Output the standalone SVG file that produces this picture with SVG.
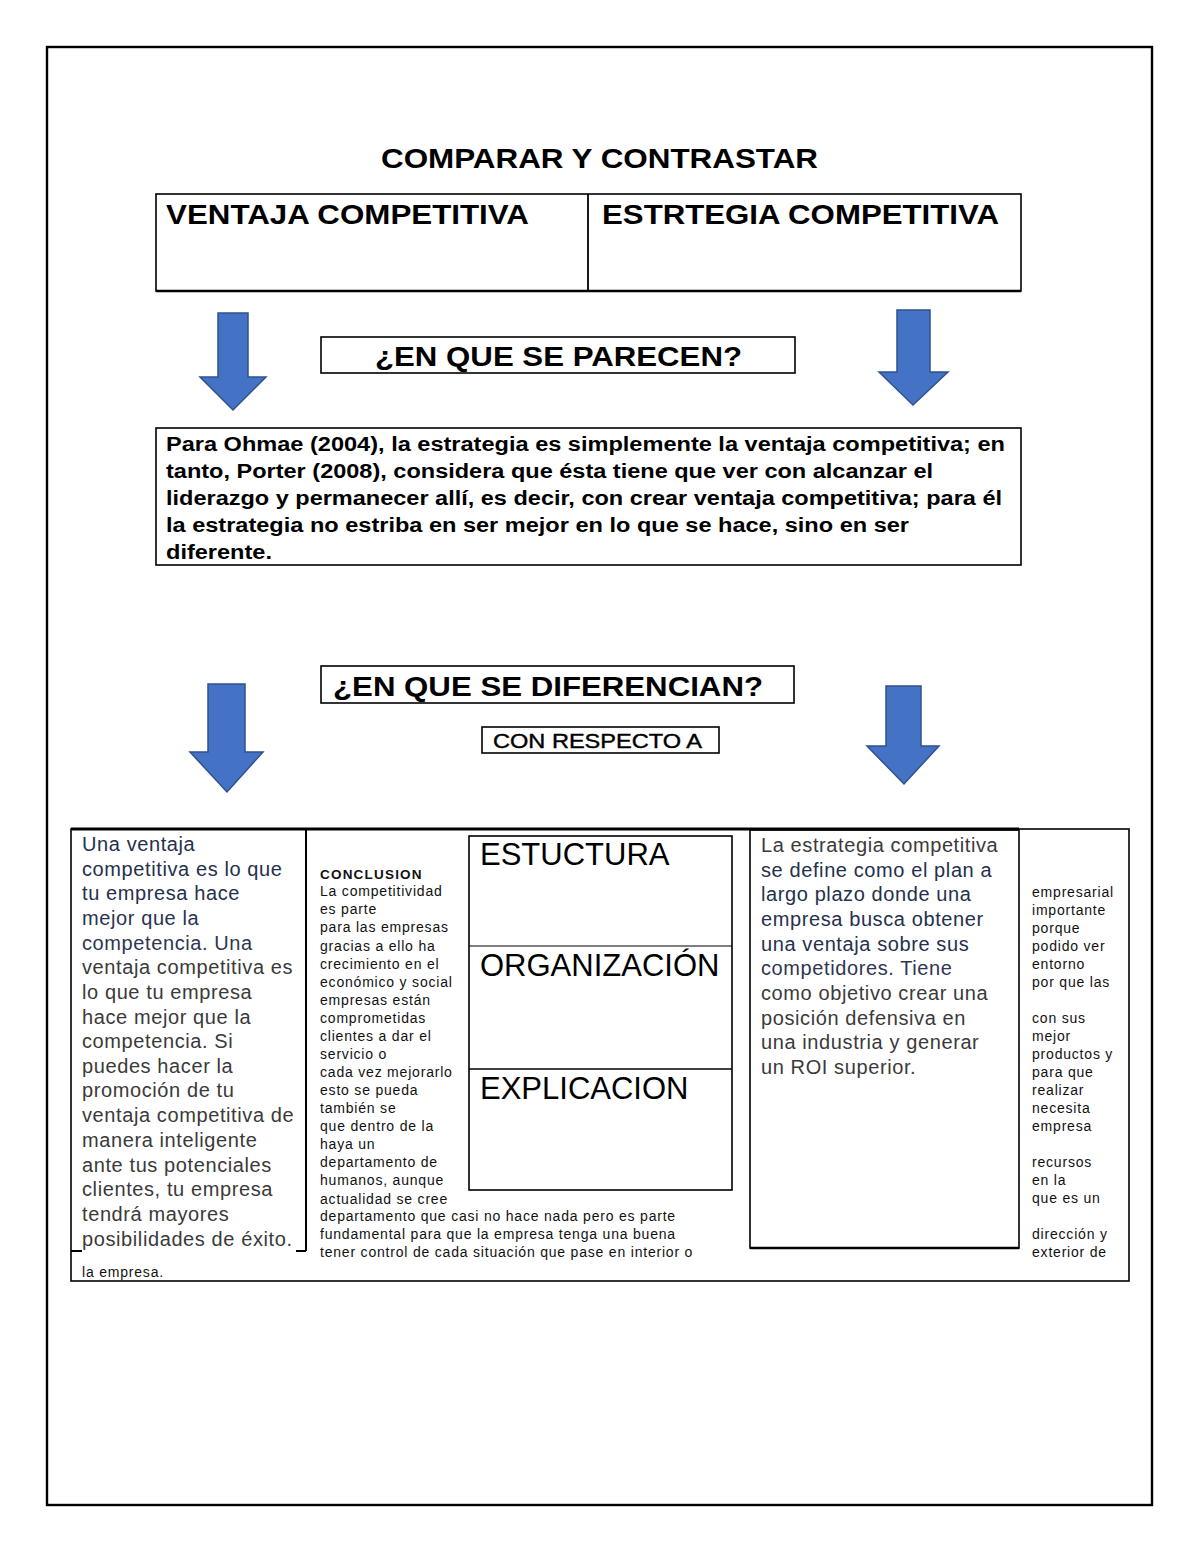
<svg xmlns="http://www.w3.org/2000/svg" width="1200" height="1553" viewBox="0 0 1200 1553">
<style>
.b{fill:none;stroke:#000;stroke-width:1.6}
.bt{fill:none;stroke:#000;stroke-width:2.4}
.h{font-family:"Liberation Sans",Arial,sans-serif;font-weight:bold;fill:#000}
.p{font-family:"Liberation Sans",Arial,sans-serif;font-weight:bold;font-size:20px;fill:#000}
.big{font-family:"Liberation Sans",Arial,sans-serif;font-size:20px;letter-spacing:0.6px;fill:#353b4c}
.sm{font-family:"Liberation Sans",Arial,sans-serif;font-size:14px;letter-spacing:0.8px;fill:#111}
.cat{font-family:"Liberation Sans",Arial,sans-serif;font-size:31px;fill:#000}
.arr{fill:#4472C4;stroke:#2F528F;stroke-width:1.5}
</style>
<rect width="1200" height="1553" fill="#fff"/>
<rect x="47" y="47" width="1105" height="1458" class="bt"/>

<g id="title">
<text x="381" y="168" class="h" font-size="28" textLength="437" lengthAdjust="spacingAndGlyphs">COMPARAR Y CONTRASTAR</text>
</g>

<g id="header-table">
<rect x="156" y="194" width="865" height="97" class="b"/>
<line x1="156" y1="291" x2="1021" y2="291" stroke="#000" stroke-width="2.4"/>
<line x1="588" y1="194" x2="588" y2="291" stroke="#000" stroke-width="1.8"/>
<text x="166" y="224" class="h" font-size="27" textLength="363" lengthAdjust="spacingAndGlyphs">VENTAJA COMPETITIVA</text>
<text x="602" y="224" class="h" font-size="27" textLength="397" lengthAdjust="spacingAndGlyphs">ESTRTEGIA COMPETITIVA</text>
</g>

<g id="parecen">
<rect x="321" y="337" width="474" height="36" class="b"/>
<text x="375" y="366" class="h" font-size="27" textLength="367" lengthAdjust="spacingAndGlyphs">¿EN QUE SE PARECEN?</text>
</g>

<g id="similarity">
<rect x="156" y="428" width="865" height="137" class="b"/>
<text x="166" y="451" class="p" textLength="839" lengthAdjust="spacingAndGlyphs">Para Ohmae (2004), la estrategia es simplemente la ventaja competitiva; en</text>
<text x="166" y="478" class="p" textLength="767" lengthAdjust="spacingAndGlyphs">tanto, Porter (2008), considera que ésta tiene que ver con alcanzar el</text>
<text x="166" y="505" class="p" textLength="836" lengthAdjust="spacingAndGlyphs">liderazgo y permanecer allí, es decir, con crear ventaja competitiva; para él</text>
<text x="166" y="532" class="p" textLength="743" lengthAdjust="spacingAndGlyphs">la estrategia no estriba en ser mejor en lo que se hace, sino en ser</text>
<text x="166" y="559" class="p" textLength="106" lengthAdjust="spacingAndGlyphs">diferente.</text>
</g>

<g id="diferencian">
<rect x="321" y="666" width="473" height="37" class="b"/>
<text x="333" y="696" class="h" font-size="27" textLength="430" lengthAdjust="spacingAndGlyphs">¿EN QUE SE DIFERENCIAN?</text>
</g>

<g id="respecto">
<rect x="482" y="727" width="237" height="26" class="b"/>
<text x="493" y="748" font-family="Liberation Sans, Arial, sans-serif" font-size="21" fill="#000" stroke="#000" stroke-width="0.4" textLength="209" lengthAdjust="spacingAndGlyphs">CON RESPECTO A</text>
</g>

<g id="connectors">
<path class="arr" d="M218,313 H248 V377 H266 L233,410 L200,377 H218 Z"/>
<path class="arr" d="M897,310 H930 V372 H948 L913,405 L879,372 H897 Z"/>
<path class="arr" d="M208,684 H245 V752 H263 L227,792 L190,752 H208 Z"/>
<path class="arr" d="M886,686 H921 V746 H939 L904,784 L867,746 H886 Z"/>
</g>

<g id="bottom-frame">
<rect x="71" y="829" width="1058" height="452" class="b"/>
<line x1="71" y1="829" x2="1019" y2="829" stroke="#000" stroke-width="3"/>
</g>

<g id="ventaja-text">
<line x1="306" y1="829" x2="306" y2="1251" stroke="#000" stroke-width="2"/>
<line x1="71" y1="1251" x2="82" y2="1251" stroke="#000" stroke-width="2"/>
<line x1="296" y1="1251" x2="306" y2="1251" stroke="#000" stroke-width="2"/>
<text class="big">
<tspan x="82" y="851" fill="#25304d">Una ventaja</tspan>
<tspan x="82" y="876" fill="#25304d">competitiva es lo que</tspan>
<tspan x="82" y="900" fill="#25304d">tu empresa hace</tspan>
<tspan x="82" y="925" fill="#2a3350">mejor que la</tspan>
<tspan x="82" y="950" fill="#2f3650">competencia. Una</tspan>
<tspan x="82" y="974" fill="#3a3a3a">ventaja competitiva es</tspan>
<tspan x="82" y="999" fill="#3a3a3a">lo que tu empresa</tspan>
<tspan x="82" y="1024" fill="#3a3a3a">hace mejor que la</tspan>
<tspan x="82" y="1048" fill="#3a3a3a">competencia. Si</tspan>
<tspan x="82" y="1073" fill="#3a3a3a">puedes hacer la</tspan>
<tspan x="82" y="1097" fill="#3a3a3a">promoción de tu</tspan>
<tspan x="82" y="1122" fill="#3a3a3a">ventaja competitiva de</tspan>
<tspan x="82" y="1147" fill="#3a3a3a">manera inteligente</tspan>
<tspan x="82" y="1172" fill="#3a3a3a">ante tus potenciales</tspan>
<tspan x="82" y="1196" fill="#3a3a3a">clientes, tu empresa</tspan>
<tspan x="82" y="1221" fill="#3a3a3a">tendrá mayores</tspan>
<tspan x="82" y="1246" fill="#3a3a3a">posibilidades de éxito.</tspan>
</text>
<text class="sm" x="82" y="1277">la empresa.</text>
</g>

<g id="conclusion">
<text x="320" y="879" font-family="Liberation Sans, Arial, sans-serif" font-weight="bold" font-size="13.5" letter-spacing="1.2" fill="#111">CONCLUSION</text>
<text class="sm">
<tspan x="320" y="896">La competitividad</tspan>
<tspan x="320" y="914">es parte</tspan>
<tspan x="320" y="932">para las empresas</tspan>
<tspan x="320" y="951">gracias a ello ha</tspan>
<tspan x="320" y="969">crecimiento en el</tspan>
<tspan x="320" y="987">económico y social</tspan>
<tspan x="320" y="1005">empresas están</tspan>
<tspan x="320" y="1023">comprometidas</tspan>
<tspan x="320" y="1041">clientes a dar el</tspan>
<tspan x="320" y="1059">servicio o</tspan>
<tspan x="320" y="1077">cada vez mejorarlo</tspan>
<tspan x="320" y="1095">esto se pueda</tspan>
<tspan x="320" y="1113">también se</tspan>
<tspan x="320" y="1131">que dentro de la</tspan>
<tspan x="320" y="1149">haya un</tspan>
<tspan x="320" y="1167">departamento de</tspan>
<tspan x="320" y="1185">humanos, aunque</tspan>
<tspan x="320" y="1204">actualidad se cree</tspan>
<tspan x="320" y="1221">departamento que casi no hace nada pero es parte</tspan>
<tspan x="320" y="1239">fundamental para que la empresa tenga una buena</tspan>
<tspan x="320" y="1257">tener control de cada situación que pase en  interior o</tspan>
</text>
</g>

<g id="categorias">
<rect x="469" y="836" width="263" height="354" class="b"/>
<line x1="469" y1="946" x2="732" y2="946" stroke="#000" stroke-width="1.2"/>
<line x1="469" y1="1069" x2="732" y2="1069" stroke="#000" stroke-width="1.6"/>
<text class="cat" x="480" y="865">ESTUCTURA</text>
<text class="cat" x="480" y="976">ORGANIZACIÓN</text>
<text class="cat" x="480" y="1099">EXPLICACION</text>
</g>

<g id="estrategia-text">
<rect x="750" y="830" width="269" height="418" class="b"/>
<line x1="750" y1="1248" x2="1019" y2="1248" stroke="#000" stroke-width="2.4"/>
<text class="big">
<tspan x="761" y="852" fill="#3a3a3a">La estrategia competitiva</tspan>
<tspan x="761" y="877" fill="#25304d">se define como el plan a</tspan>
<tspan x="761" y="901" fill="#25304d">largo plazo donde una</tspan>
<tspan x="761" y="926" fill="#25304d">empresa busca obtener</tspan>
<tspan x="761" y="951" fill="#25304d">una ventaja sobre sus</tspan>
<tspan x="761" y="975" fill="#2f3650">competidores. Tiene</tspan>
<tspan x="761" y="1000" fill="#3a3a3a">como objetivo crear una</tspan>
<tspan x="761" y="1025" fill="#3a3a3a">posición defensiva en</tspan>
<tspan x="761" y="1049" fill="#3a3a3a">una industria y generar</tspan>
<tspan x="761" y="1074" fill="#3a3a3a">un ROI superior.</tspan>
</text>
</g>

<g id="extra-column">
<text class="sm">
<tspan x="1032" y="897">empresarial</tspan>
<tspan x="1032" y="915">importante</tspan>
<tspan x="1032" y="933">porque</tspan>
<tspan x="1032" y="951">podido ver</tspan>
<tspan x="1032" y="969">entorno</tspan>
<tspan x="1032" y="987">por que las</tspan>
<tspan x="1032" y="1023">con sus</tspan>
<tspan x="1032" y="1041">mejor</tspan>
<tspan x="1032" y="1059">productos y</tspan>
<tspan x="1032" y="1077">para que</tspan>
<tspan x="1032" y="1095">realizar</tspan>
<tspan x="1032" y="1113">necesita</tspan>
<tspan x="1032" y="1131">empresa</tspan>
<tspan x="1032" y="1167">recursos</tspan>
<tspan x="1032" y="1185">en la</tspan>
<tspan x="1032" y="1203">que es un</tspan>
<tspan x="1032" y="1239">dirección y</tspan>
<tspan x="1032" y="1257">exterior de</tspan>
</text>
</g>
</svg>
